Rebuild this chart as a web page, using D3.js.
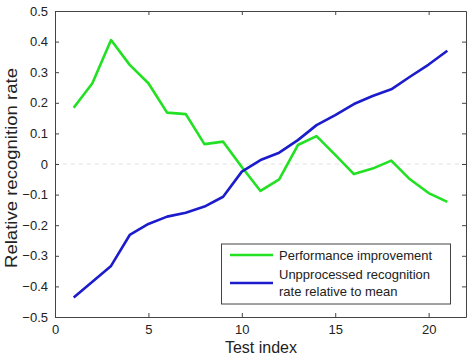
<!DOCTYPE html>
<html><head><meta charset="utf-8">
<script src="https://cdn.jsdelivr.net/npm/d3@7"></script>
<style>body{margin:0;background:#fff}svg{display:block}text{font-family:"Liberation Sans",Arial,sans-serif;fill:#222}</style>
</head><body>
<script>
const testIndex = d3.range(1, 22);
const performanceImprovement = [0.184,0.264,0.405,0.324,0.264,0.168,0.163,0.065,0.073,-0.01,-0.088,-0.05,0.062,0.091,0.03,-0.033,-0.015,0.011,-0.05,-0.095,-0.124];
const unprocessedRelative = [-0.436,-0.385,-0.333,-0.232,-0.196,-0.172,-0.159,-0.139,-0.107,-0.025,0.013,0.037,0.078,0.127,0.16,0.196,0.222,0.244,0.285,0.325,0.370];
const xTicks = [0,5,10,15,20];
const yTicks = [-0.5,-0.4,-0.3,-0.2,-0.1,0,0.1,0.2,0.3,0.4,0.5];
const seriesNames = ["Performance improvement", "Unpprocessed recognition|rate relative to mean"];
const seriesColors = ["#22e022", "#1c1ccc"];

const W = 474, H = 358;
const L = 55, R = 466, T = 11, B = 317;
const svg = d3.select("body").append("svg").attr("width", W).attr("height", H);
const x = d3.scaleLinear().domain([0, 22]).range([L, R]);
const y = d3.scaleLinear().domain([-0.5, 0.5]).range([B, T]);
const fmt = d => d === 0 ? "0" : d3.format(".1f")(d).replace("-", "\u2212");

// zero reference line
svg.append("line").attr("x1", L).attr("x2", R).attr("y1", y(0)).attr("y2", y(0))
  .attr("stroke", "#ebebeb").attr("stroke-width", 1.5).attr("stroke-dasharray", "4,4");

const style = g => { g.selectAll(".tick line").attr("stroke", "#444"); g.select(".domain").attr("stroke", "#444"); g.selectAll("text").attr("font-size", 13).attr("fill", "#222"); };
svg.append("g").attr("transform", `translate(0,${B})`)
  .call(d3.axisBottom(x).tickValues(xTicks).tickSizeInner(-4).tickSizeOuter(0).tickPadding(8)).call(style);
svg.append("g").attr("transform", `translate(0,${T})`)
  .call(d3.axisTop(x).tickValues(xTicks).tickSizeInner(-4).tickSizeOuter(0).tickFormat("")).call(style);
svg.append("g").attr("transform", `translate(${L},0)`)
  .call(d3.axisLeft(y).tickValues(yTicks).tickSizeInner(-4).tickSizeOuter(0).tickPadding(7).tickFormat(fmt)).call(style);
svg.append("g").attr("transform", `translate(${R},0)`)
  .call(d3.axisRight(y).tickValues(yTicks).tickSizeInner(-4).tickSizeOuter(0).tickFormat("")).call(style);

// lines
const line = d3.line().x((d, i) => x(testIndex[i])).y(d => y(d));
[performanceImprovement, unprocessedRelative].forEach((s, k) => {
  svg.append("path").datum(s).attr("d", line).attr("fill", "none")
    .attr("stroke", seriesColors[k]).attr("stroke-width", 2.6).attr("stroke-linejoin", "round");
});

// axis titles
svg.append("text").attr("x", 261).attr("y", 353).attr("text-anchor", "middle").attr("font-size", 16).text("Test index");
svg.append("text").attr("transform", "translate(17,168) rotate(-90)").attr("text-anchor", "middle")
  .attr("font-size", 16.5).attr("textLength", 200).attr("lengthAdjust", "spacingAndGlyphs").text("Relative recognition rate");

// legend
const lg = svg.append("g");
lg.append("rect").attr("x", 221.5).attr("y", 244).attr("width", 229).attr("height", 60)
  .attr("fill", "#fff").attr("stroke", "#444").attr("stroke-width", 1);
const lineY = [255, 283];
seriesNames.forEach((n, k) => {
  lg.append("line").attr("x1", 230).attr("x2", 273).attr("y1", lineY[k]).attr("y2", lineY[k])
    .attr("stroke", seriesColors[k]).attr("stroke-width", 2.6);
  n.split("|").forEach((p, j) => {
    lg.append("text").attr("x", 279).attr("y", k === 0 ? 260 : 279 + j * 16.5)
      .attr("font-size", 13).text(p);
  });
});
</script>
</body></html>
